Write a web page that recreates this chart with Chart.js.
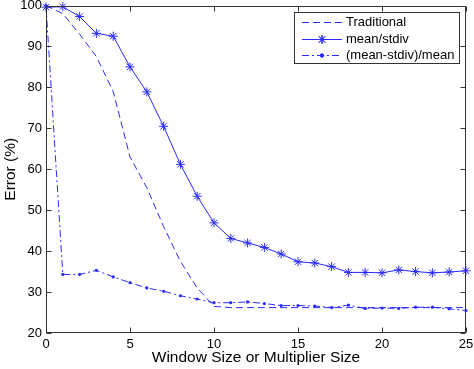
<!DOCTYPE html>
<html>
<head>
<meta charset="utf-8">
<script src="https://cdn.jsdelivr.net/npm/chart.js@4.4.0/dist/chart.umd.min.js"></script>
<style>
  html, body { margin: 0; padding: 0; background: #fff; }
  canvas { display: block; }
</style>
</head>
<body>
<canvas id="errChart" width="474" height="369"></canvas>
<script>
// window / multiplier sizes on the x axis
const windowSizes = [0, 1, 2, 3, 4, 5, 6, 7, 8, 9, 10, 11, 12, 13, 14, 15, 16, 17, 18, 19, 20, 21, 22, 23, 24, 25];

// error (%) for each method
const traditional = [100, 98, 93, 87.5, 79, 63, 55.5, 46, 37.5, 31, 26.5, 26.2, 26.2, 26.2, 26.2, 26.2, 26.2, 26.2, 26.2, 26.2, 26.2, 26.2, 26.2, 26.2, 26.2, 26.2];
const meanStdiv = [99.6, 99.7, 97.3, 93.2, 92.5, 85, 78.9, 70.5, 61.2, 53.4, 46.9, 43.1, 42, 40.9, 39.3, 37.4, 37.1, 36.2, 34.8, 34.8, 34.7, 35.4, 35, 34.7, 34.9, 35.2];
const meanMinusStdiv = [100, 34.3, 34.3, 35.3, 33.7, 32.3, 31, 30.2, 29.1, 28.3, 27.4, 27.4, 27.6, 27.2, 26.7, 26.7, 26.6, 26.2, 26.8, 26, 26.1, 26, 26.3, 26.3, 25.9, 25.5];

const seriesNames = ['Traditional', 'mean/stdiv', '(mean-stdiv)/mean'];
const yTicks = [20, 30, 40, 50, 60, 70, 80, 90, 100];
const xTicks = [0, 5, 10, 15, 20, 25];

const blue = '#2b2bff';
const fontFamily = '"Liberation Sans", Arial, Helvetica, sans-serif';

const toPoints = (vals) => vals.map((v, i) => ({ x: windowSizes[i], y: v }));

// cadre + graduations intérieures façon MATLAB
const axesBox = {
    id: 'axesBox',
    afterDraw(chart) {
        const { ctx, chartArea: a, scales } = chart;
        const l = Math.round(a.left) + 0.5, r = Math.round(a.right) - 0.5;
        const t = Math.round(a.top) + 0.5, b = Math.round(a.bottom) - 0.5;
        ctx.save();
        ctx.strokeStyle = '#333';
        ctx.lineWidth = 1;
        ctx.setLineDash([]);
        ctx.strokeRect(l, t, r - l, b - t);
        const len = 5;
        ctx.beginPath();
        xTicks.forEach(v => {
            const px = Math.round(scales.x.getPixelForValue(v)) + 0.5;
            ctx.moveTo(px, b); ctx.lineTo(px, b - len);
            ctx.moveTo(px, t); ctx.lineTo(px, t + len);
        });
        yTicks.forEach(v => {
            const py = Math.round(scales.y.getPixelForValue(v)) + 0.5;
            ctx.moveTo(l, py); ctx.lineTo(l + len, py);
            ctx.moveTo(r, py); ctx.lineTo(r - len, py);
        });
        ctx.stroke();
        ctx.restore();
    }
};

// légende encadrée en haut à droite
const boxLegend = {
    id: 'boxLegend',
    afterDraw(chart) {
        const { ctx } = chart;
        const bx = 294.5, by = 12.5, bw = 165, bh = 51;
        ctx.save();
        ctx.fillStyle = '#fff';
        ctx.fillRect(bx, by, bw, bh);
        ctx.strokeStyle = '#333';
        ctx.lineWidth = 1;
        ctx.strokeRect(bx, by, bw, bh);

        ctx.font = '13px ' + fontFamily;
        ctx.textBaseline = 'middle';
        ctx.textAlign = 'left';
        const rows = [22, 39, 55];
        chart.data.datasets.forEach((ds, i) => {
            const y = rows[i] + 0.5;
            ctx.strokeStyle = blue;
            ctx.lineWidth = 1;
            ctx.setLineDash(ds.borderDash || []);
            ctx.beginPath();
            ctx.moveTo(302, y);
            ctx.lineTo(342, y);
            ctx.stroke();
            ctx.setLineDash([]);
            if (ds.pointRadius > 0) {
                Chart.helpers.drawPoint(ctx, {
                    pointStyle: ds.pointStyle,
                    radius: ds.pointRadius,
                    rotation: 0,
                    borderWidth: 1
                }, 322, y);
                ctx.fillStyle = blue;
                ctx.strokeStyle = blue;
                if (ds.pointStyle === 'circle') ctx.fill();
                ctx.stroke();
            }
            ctx.fillStyle = '#000';
            ctx.fillText(seriesNames[i], 346, y);
        });
        ctx.restore();
    }
};

// pas de marge automatique pour les libellés qui débordent
const noOverflow = (scale) => {
    scale.paddingTop = 0;
    scale.paddingBottom = 0;
    scale.paddingLeft = 0;
    scale.paddingRight = 0;
};

const ctx = document.getElementById('errChart').getContext('2d');

new Chart(ctx, {
    type: 'line',
    data: {
        datasets: [
            {
                label: seriesNames[0],
                data: toPoints(traditional),
                borderColor: blue,
                borderWidth: 1,
                borderDash: [7, 4],
                pointRadius: 0,
                fill: false,
                clip: false
            },
            {
                label: seriesNames[1],
                data: toPoints(meanStdiv),
                borderColor: blue,
                backgroundColor: blue,
                borderWidth: 1,
                pointStyle: 'star',
                pointRadius: 4.5,
                pointBorderWidth: 1,
                fill: false,
                clip: false
            },
            {
                label: seriesNames[2],
                data: toPoints(meanMinusStdiv),
                borderColor: blue,
                backgroundColor: blue,
                borderWidth: 1,
                borderDash: [7, 3, 2, 3],
                pointStyle: 'circle',
                pointRadius: 1.6,
                pointBorderWidth: 0,
                fill: false,
                clip: false
            }
        ]
    },
    options: {
        responsive: false,
        animation: false,
        devicePixelRatio: 1,
        layout: {
            padding: { left: 0, right: 8, top: 5, bottom: 0 }
        },
        plugins: {
            legend: { display: false },
            tooltip: { enabled: false }
        },
        scales: {
            x: {
                type: 'linear',
                min: 0,
                max: 25,
                grid: { display: false, drawTicks: false },
                border: { display: false },
                afterBuildTicks: (scale) => { scale.ticks = xTicks.map(v => ({ value: v })); },
                afterFit: (scale) => { scale.height = 36; noOverflow(scale); },
                ticks: {
                    padding: 4,
                    color: '#000',
                    font: { size: 13, family: fontFamily }
                },
                title: {
                    display: true,
                    text: 'Window Size or Multiplier Size',
                    color: '#000',
                    font: { size: 15.5, family: fontFamily },
                    padding: { top: 0, bottom: 2 }
                }
            },
            y: {
                min: 20,
                max: 100,
                grid: { display: false, drawTicks: false },
                border: { display: false },
                afterBuildTicks: (scale) => { scale.ticks = yTicks.map(v => ({ value: v })); },
                afterFit: (scale) => { scale.width = 46; noOverflow(scale); },
                ticks: {
                    padding: 4,
                    color: '#000',
                    font: { size: 13, family: fontFamily }
                },
                title: {
                    display: true,
                    text: 'Error (%)',
                    color: '#000',
                    font: { size: 15.5, family: fontFamily },
                    padding: { top: 1, bottom: 0 }
                }
            }
        }
    },
    plugins: [axesBox, boxLegend]
});
</script>
</body>
</html>
